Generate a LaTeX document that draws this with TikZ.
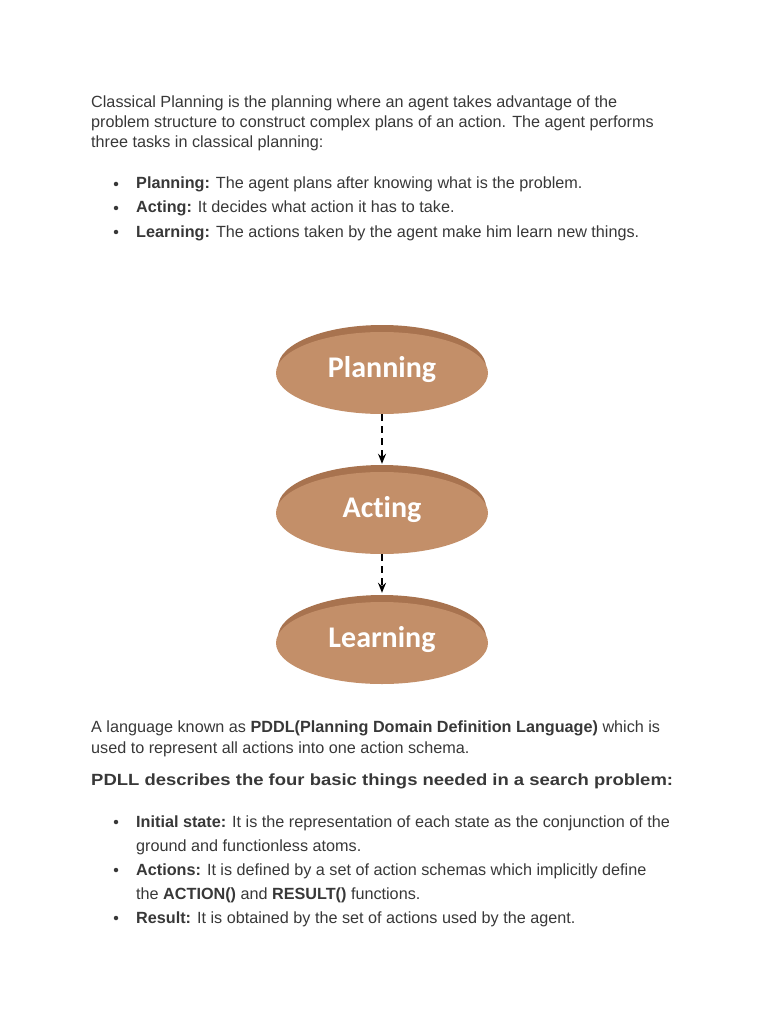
\documentclass[tikz,border=0pt]{standalone}
\usepackage{fontspec}
\usetikzlibrary{arrows.meta}
\setmainfont{Liberation Sans}
\newfontfamily\carl[Ligatures={NoCommon,NoRare}]{Carlito}
\definecolor{txt}{HTML}{383838}
\definecolor{ellf}{HTML}{C38F69}
\definecolor{ellr}{HTML}{A8734F}
\begin{document}
\begin{tikzpicture}[x=1pt,y=-1pt,
  line/.style={anchor=base west,inner sep=0,text=txt,font=\fontsize{16.2}{19}\selectfont},
  bul/.style={fill=txt,circle,inner sep=0,minimum size=4.5},
  lab/.style={text=white,font=\carl\bfseries\fontsize{30}{33}\selectfont},
  conn/.style={dashed,dash pattern=on 7pt off 5pt,line width=1.5pt,-{Stealth[length=10pt,width=8pt]}}]
\useasboundingbox (0,0) rectangle (768,1024);
\node[line] (p1) at (91,108) {Classical Planning is the planning where an agent takes advantage of the};
\node[line] (p2) at (91,128) {problem structure to construct complex plans of an action. The agent performs};
\node[line] (p3) at (91,148) {three tasks in classical planning:};
\foreach \y/\n/\b/\t in {189/b1/Planning:/The agent plans after knowing what is the problem.,
  213/b2/Acting:/It decides what action it has to take.,
  237/b3/Learning:/The actions taken by the agent make him learn new things.}{
  \node[bul] (\n d) at (116,\y-5) {};
  \node[line] (\n) at (136,\y) {\textbf{\b} \t};
}
% ellipses
\foreach \n/\cy/\t in {pl/370/Planning,ac/510/Acting,le/640/Learning}{
  \fill[ellr] (382,\cy-3) ellipse [x radius=104,y radius=42];
  \fill[ellf] (382,\cy+3) ellipse [x radius=106,y radius=41];
  \node[lab,inner sep=0,minimum width=212,minimum height=88] (\n) at (382,\cy) {\t};
}
\draw[conn] (pl.south) -- ([yshift=2]ac.north);
\draw[conn] (ac.south) -- ([yshift=3]le.north);
\node[line] (q1) at (91,732) {A language known as \textbf{PDDL(Planning Domain Definition Language)} which is};
\node[line] (q2) at (91,753) {used to represent all actions into one action schema.};
\node[line] (q3) at (91,785) {\scalebox{1.14}[1]{\textbf{PDLL describes the four basic things needed in a search problem:}}};
\node[bul] (c1d) at (116,822) {};
\node[line] (c1) at (136,827) {\textbf{Initial state:} It is the representation of each state as the conjunction of the};
\node[line] (c1b) at (136,851) {ground and functionless atoms.};
\node[bul] (c2d) at (116,870) {};
\node[line] (c2) at (136,875) {\textbf{Actions:} It is defined by a set of action schemas which implicitly define};
\node[line] (c2b) at (136,899) {the \textbf{ACTION()} and \textbf{RESULT()} functions.};
\node[bul] (c3d) at (116,918) {};
\node[line] (c3) at (136,923) {\textbf{Result:} It is obtained by the set of actions used by the agent.};
\end{tikzpicture}
\end{document}
